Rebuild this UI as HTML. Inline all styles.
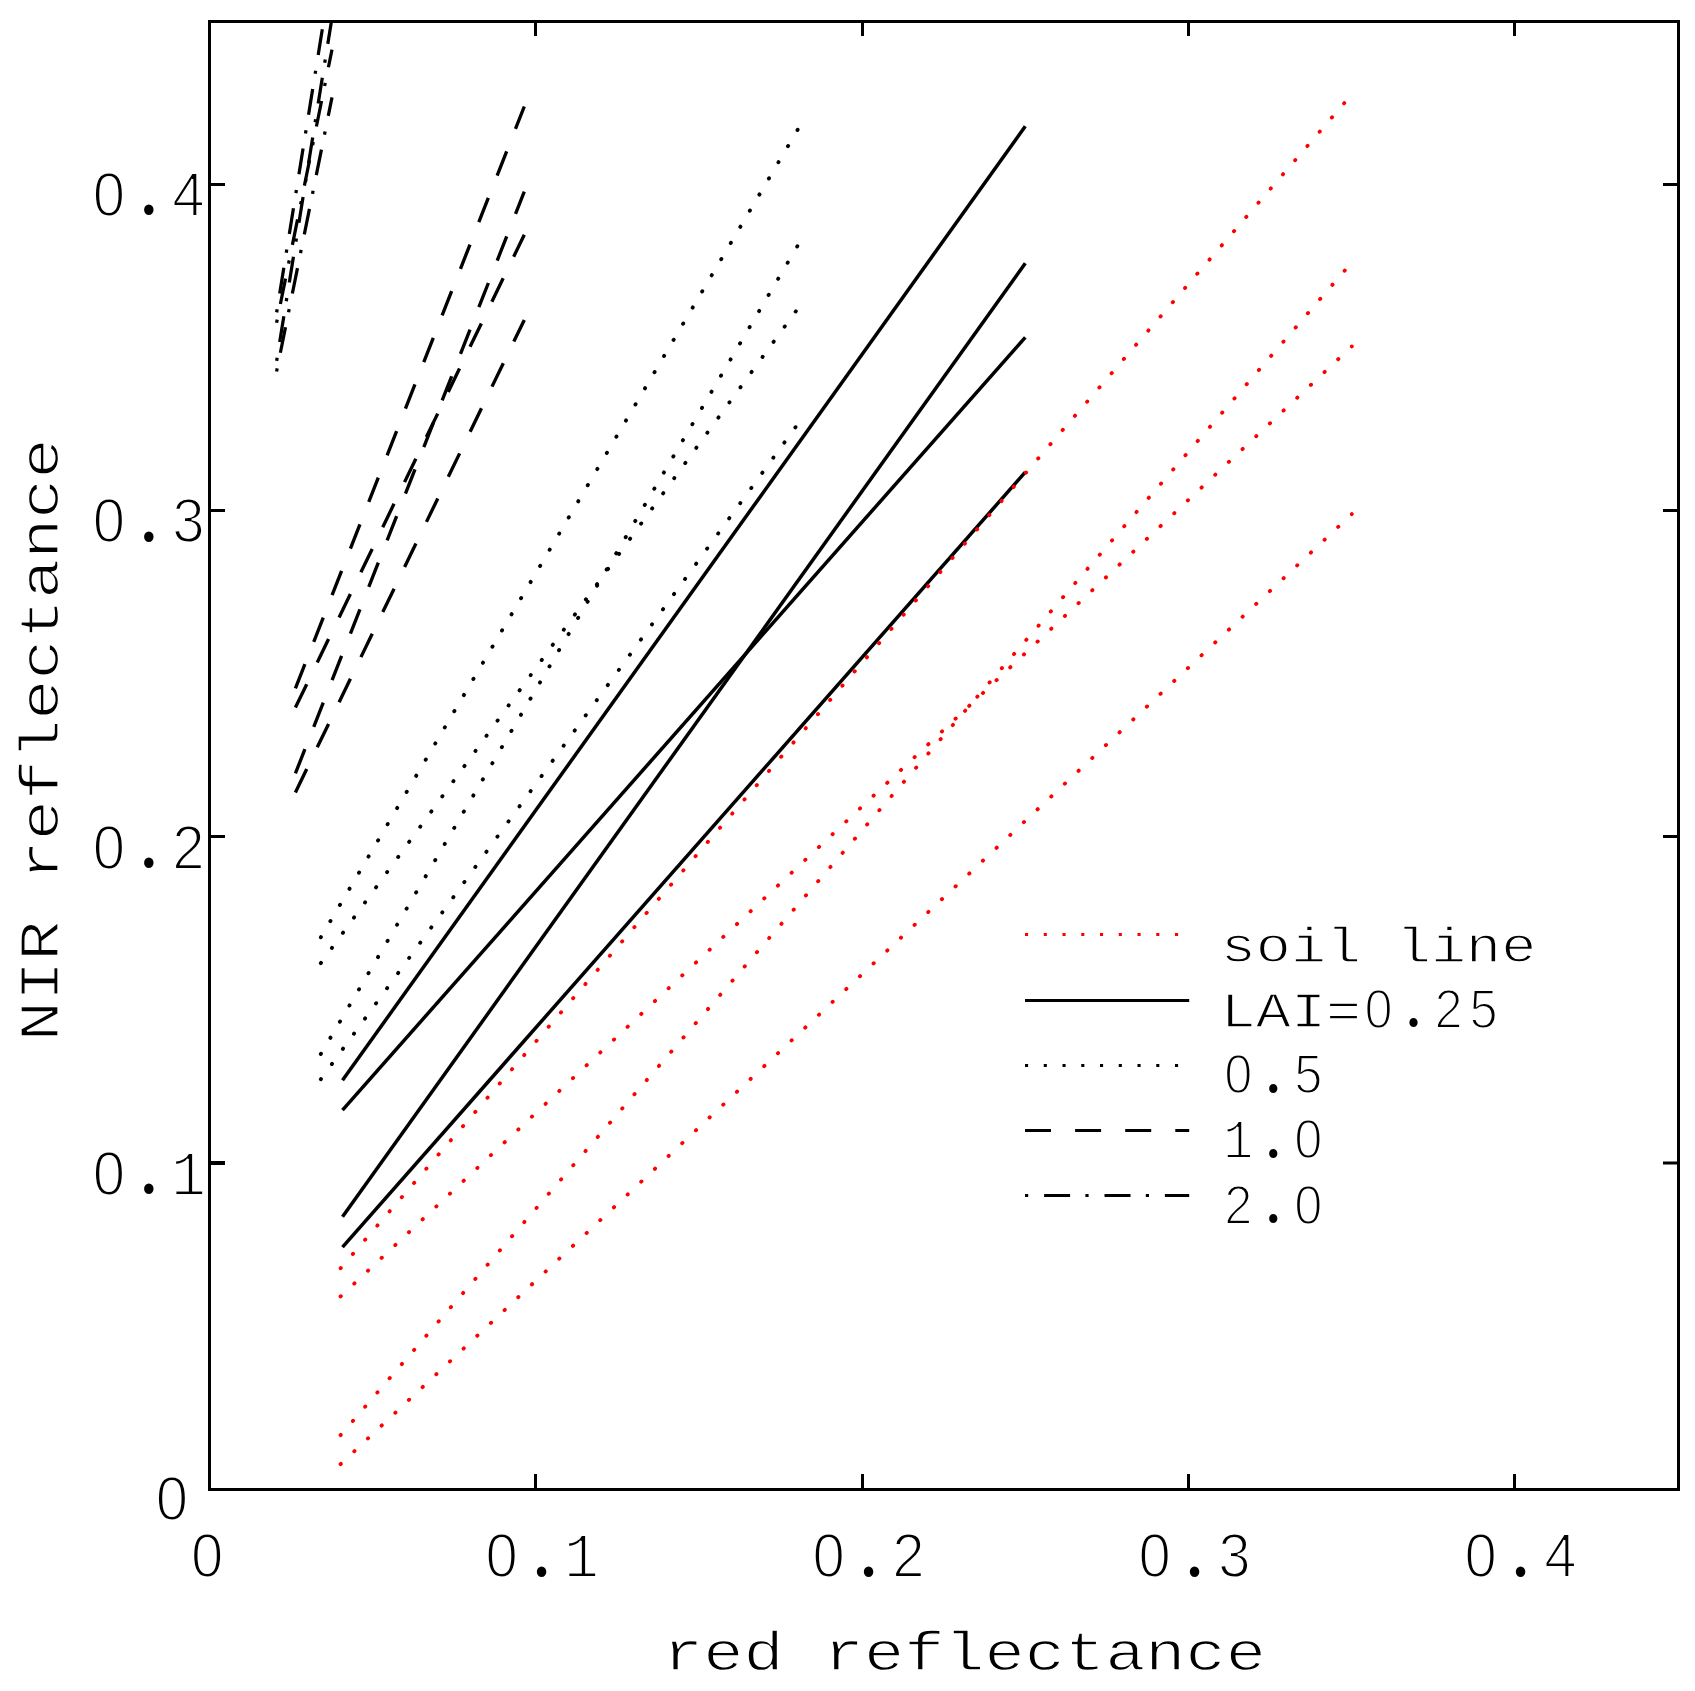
<!DOCTYPE html>
<html lang="en"><head><meta charset="utf-8"><title>NIR reflectance vs red reflectance</title>
<style>
html,body{margin:0;padding:0;background:#fff;}
body{width:1695px;height:1691px;overflow:hidden;}
svg{display:block;}
text{font-family:"Liberation Mono",monospace;fill:#000;}
.lbl{stroke:#fff;stroke-width:1.3;}
.dg{font-family:"Liberation Sans",sans-serif;stroke:#fff;stroke-width:2;}
.pt{font-family:"Liberation Serif",serif;stroke:none;}
.one{font-family:"Liberation Mono",monospace;}
.ln{fill:none;stroke:#000;stroke-width:3.5;stroke-linecap:butt;}
.red{stroke:#f00;}
.dot{stroke-dasharray:0.4 18.35;stroke-linecap:round;stroke-width:3.8;}
.dash{stroke-dasharray:26 24.1;}
.dd{stroke-dasharray:3.2 15.9 26 15.3;}
.lg{stroke-width:3;}
.dot.lg{stroke-dasharray:3.1 15.65;stroke-linecap:butt;stroke-width:3;}
.w38{stroke-width:3.35;}
.w35{stroke-width:3.25;}
.ax{fill:none;stroke:#000;stroke-width:3;stroke-linecap:butt;stroke-linejoin:miter;}
</style></head><body>
<svg width="1695" height="1691" viewBox="0 0 1695 1691">
<rect x="0" y="0" width="1695" height="1691" fill="#fff"/>
<defs><clipPath id="pc"><rect x="209.5" y="21.5" width="1469" height="1468"/></clipPath></defs>
<g clip-path="url(#pc)">
<line class="ln sol" x1="342.5" y1="1080.3" x2="1025.3" y2="126.3"/>
<line class="ln sol" x1="342.5" y1="1110.1" x2="1025.3" y2="337.4"/>
<line class="ln sol" x1="342.5" y1="1216.7" x2="1025.3" y2="263.3"/>
<line class="ln sol" x1="342.5" y1="1247.1" x2="1025.3" y2="472.1"/>
<line class="ln dot" x1="320.8" y1="937.37" x2="798.26" y2="128.71"/>
<line class="ln dot" x1="320.78" y1="963.16" x2="798.38" y2="307.79"/>
<line class="ln dot" x1="320.8" y1="1054.07" x2="798.26" y2="244.71"/>
<line class="ln dot" x1="320.78" y1="1079.26" x2="798.38" y2="423.29"/>
<line class="ln dash w38" x1="295.4" y1="688.4" x2="524.3" y2="106.5"/>
<line class="ln dash w38" x1="295.4" y1="707.6" x2="524.3" y2="234.7"/>
<line class="ln dash w38" x1="295.4" y1="773.4" x2="524.3" y2="191.7"/>
<line class="ln dash w38" x1="295.4" y1="792.4" x2="524.3" y2="319.9"/>
<line class="ln dd w35" x1="276.65" y1="312.38" x2="332" y2="-30.71"/>
<line class="ln dd w35" x1="276.58" y1="322.77" x2="332" y2="49.6"/>
<line class="ln dd w35" x1="276.65" y1="360.88" x2="332" y2="17.79"/>
<line class="ln dd w35" x1="276.58" y1="371.47" x2="332" y2="97.4"/>
<line class="ln dot red" x1="340.57" y1="1268.25" x2="1351.8" y2="94.4"/>
<line class="ln dot red" x1="340.55" y1="1296.44" x2="1351.8" y2="346.4"/>
<line class="ln dot red" x1="340.57" y1="1435.15" x2="1351.8" y2="262.3"/>
<line class="ln dot red" x1="340.55" y1="1464.14" x2="1351.8" y2="514.1"/>
</g>
<line class="ln dot red lg" x1="1025" y1="934.5" x2="1189.2" y2="934.5"/>
<line class="ln sol lg" x1="1025" y1="1000.5" x2="1189.2" y2="1000.5"/>
<line class="ln dot lg" x1="1025" y1="1065.5" x2="1189.2" y2="1065.5"/>
<line class="ln dash lg" x1="1025" y1="1130.5" x2="1189.2" y2="1130.5"/>
<line class="ln dd lg" x1="1025" y1="1195.5" x2="1189.2" y2="1195.5"/>
<rect class="ax" x="209.5" y="21.5" width="1469" height="1468"/>
<path class="ax" d="M535.5 1489.5V1474M535.5 21.5V36M862.5 1489.5V1474M862.5 21.5V36M1188.5 1489.5V1474M1188.5 21.5V36M1514.5 1489.5V1474M1514.5 21.5V36M209.5 1163H225M1678.5 1163H1663M209.5 836.5H225M1678.5 836.5H1663M209.5 510.5H225M1678.5 510.5H1663M209.5 184.5H225M1678.5 184.5H1663"/>
<path class="ax" style="stroke-width:4" d="M209.5 1163H225"/>
<text class="dg" transform="translate(0 1577.2) scale(0.9150 1)" text-anchor="middle" font-size="63.5" x="226.34" y="0">0</text>
<text class="dg" transform="translate(0 1577.2) scale(0.9150 1)" text-anchor="middle" font-size="63.5" x="548.25 591.8 635.36" y="0 -1.6 0">0<tspan class="pt" font-size="88">.</tspan><tspan class="one" font-size="63.5">1</tspan></text>
<text class="dg" transform="translate(0 1577.2) scale(0.9150 1)" text-anchor="middle" font-size="63.5" x="905.63 949.18 992.73" y="0 -1.6 0">0<tspan class="pt" font-size="88">.</tspan>2</text>
<text class="dg" transform="translate(0 1577.2) scale(0.9150 1)" text-anchor="middle" font-size="63.5" x="1261.91 1305.46 1349.02" y="0 -1.6 0">0<tspan class="pt" font-size="88">.</tspan>3</text>
<text class="dg" transform="translate(0 1577.2) scale(0.9150 1)" text-anchor="middle" font-size="63.5" x="1618.2 1661.75 1705.3" y="0 -1.6 0">0<tspan class="pt" font-size="88">.</tspan>4</text>
<text class="dg" transform="translate(0 1520) scale(0.9150 1)" text-anchor="middle" font-size="63.5" x="187.98" y="0">0</text>
<text class="dg" transform="translate(0 1195) scale(0.9150 1)" text-anchor="middle" font-size="63.5" x="119.13 162.62 206.01" y="0 -1.6 0">0<tspan class="pt" font-size="88">.</tspan><tspan class="one" font-size="63.5">1</tspan></text>
<text class="dg" transform="translate(0 868.8) scale(0.9150 1)" text-anchor="middle" font-size="63.5" x="119.13 162.62 206.01" y="0 -1.6 0">0<tspan class="pt" font-size="88">.</tspan>2</text>
<text class="dg" transform="translate(0 542.3) scale(0.9150 1)" text-anchor="middle" font-size="63.5" x="119.13 162.62 206.01" y="0 -1.6 0">0<tspan class="pt" font-size="88">.</tspan>3</text>
<text class="dg" transform="translate(0 215.8) scale(0.9150 1)" text-anchor="middle" font-size="63.5" x="119.13 162.62 206.01" y="0 -1.6 0">0<tspan class="pt" font-size="88">.</tspan>4</text>
<text class="lbl" transform="translate(663 1669.85) scale(1.2072 1)" font-size="55.5">red reflectance</text>
<text class="lbl" transform="translate(57.9 1041.2) rotate(-90) scale(1.2072 1)" font-size="55.5">NIR reflectance</text>
<text class="lbl" transform="translate(1220.8 962) scale(1.1893 1)" font-size="49.12">soil line</text>
<text class="dg" transform="translate(0 1027.8) scale(0.9150 1)" text-anchor="middle" font-size="55.24"><tspan class="lbl one" text-anchor="start" x="1334.21" y="-0.8" font-size="49.12" textLength="153.22" lengthAdjust="spacingAndGlyphs">LAI=</tspan><tspan x="1506.56 1544.86 1583.17 1621.48" y="0 -1.4 0 0">0<tspan class="pt" font-size="76.56">.</tspan>25</tspan></text>
<text class="dg" transform="translate(0 1093.1) scale(0.9150 1)" text-anchor="middle" font-size="55.24" x="1353.33 1391.64 1429.95" y="0 -1.6 0">0<tspan class="pt" font-size="76.56">.</tspan>5</text>
<text class="dg" transform="translate(0 1158.3) scale(0.9150 1)" text-anchor="middle" font-size="55.24" x="1353.33 1391.64 1429.95" y="0 -1.6 0"><tspan class="one" font-size="55.24">1</tspan><tspan class="pt" font-size="76.56">.</tspan>0</text>
<text class="dg" transform="translate(0 1223.5) scale(0.9150 1)" text-anchor="middle" font-size="55.24" x="1353.33 1391.64 1429.95" y="0 -1.6 0">2<tspan class="pt" font-size="76.56">.</tspan>0</text>
</svg></body></html>
